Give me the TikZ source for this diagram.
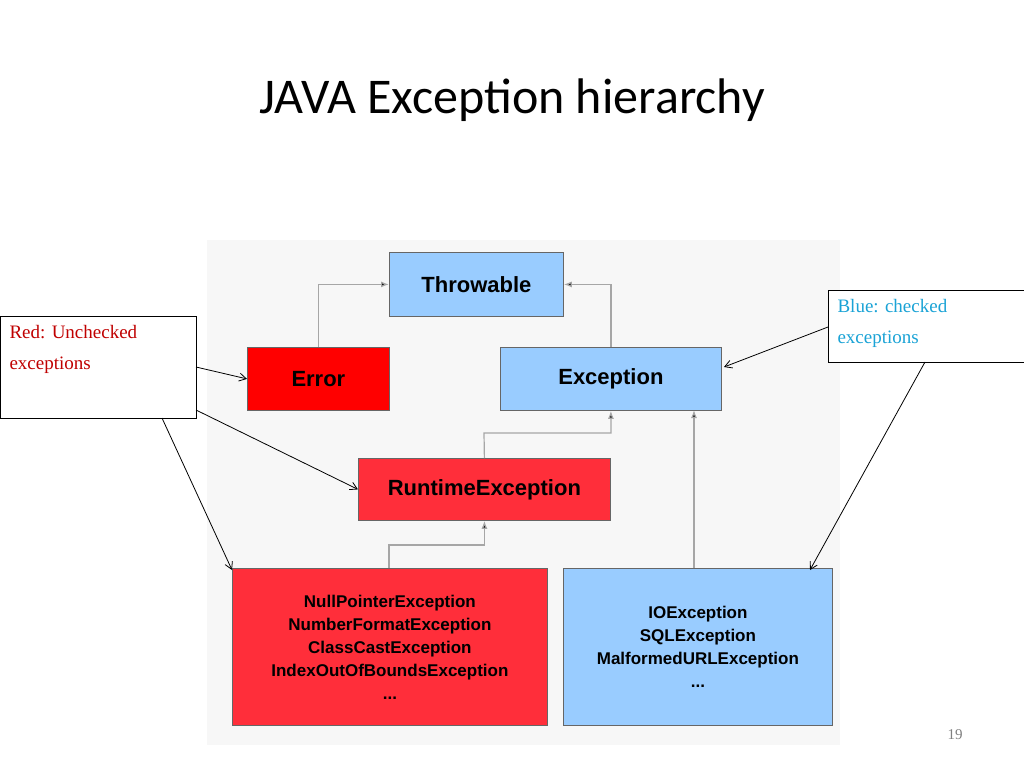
\documentclass[tikz,border=0pt]{standalone}
\usepackage{fontspec}
\setmainfont{Liberation Serif}
\newfontfamily\titlefont{Carlito}
\newfontfamily\boxfont{Liberation Sans}
\usetikzlibrary{arrows.meta}
\definecolor{lblue}{HTML}{99CCFF}
\definecolor{bred}{HTML}{FF0000}
\definecolor{rred}{HTML}{FF2E3A}
\definecolor{cblue}{HTML}{1AA3D6}
\definecolor{cred}{HTML}{C00000}
\begin{document}
\begin{tikzpicture}[x=1pt,y=-1pt,
  cls/.style={draw=gray!80!black,line width=0.8pt,anchor=north west,font=\boxfont\bfseries,align=center,inner sep=0pt},
  inh/.style={draw=gray!70,line width=1.2pt,-{Latex[length=8pt,width=6pt,fill=black]}},
  note/.style={-{Straight Barb[length=7pt,width=8pt]},line width=0.8pt},
  callout/.style={draw,fill=white,anchor=north west,inner sep=0pt}]
\useasboundingbox (0,0) rectangle (1024,768);
\fill[white] (0,0) rectangle (1024,768);
\fill[black!3] (207,240) rectangle (840,745);
\node[font=\titlefont\fontsize{50}{60}\selectfont] (title) at (512,100) {JAVA Exception hierarchy};
\node[cls,fill=lblue,minimum width=174pt,minimum height=64pt,font=\boxfont\bfseries\fontsize{22}{26}\selectfont] (thr) at (389,252) {Throwable};
\node[cls,fill=bred,minimum width=142pt,minimum height=63pt,font=\boxfont\bfseries\fontsize{22}{26}\selectfont] (err) at (247,347) {Error};
\node[cls,fill=lblue,minimum width=221pt,minimum height=63pt,font=\boxfont\bfseries\fontsize{22}{26}\selectfont] (exc) at (500,347) {Exception};
\node[cls,fill=rred,minimum width=252pt,minimum height=62pt,font=\boxfont\bfseries\fontsize{22}{26}\selectfont] (rte) at (358,458) {RuntimeException};
\node[cls,fill=rred,minimum width=315pt,minimum height=157pt,font=\boxfont\bfseries\fontsize{17}{23}\selectfont] (unc) at (232,568) {NullPointerException\\NumberFormatException\\ClassCastException\\IndexOutOfBoundsException\\...};
\node[cls,fill=lblue,minimum width=269pt,minimum height=157pt,font=\boxfont\bfseries\fontsize{17}{23}\selectfont] (chk) at (563,568) {IOException\\SQLException\\MalformedURLException\\...};
\node[callout,minimum width=196pt,minimum height=102pt] (rc) at (0,316) {};
\node[anchor=north west,align=left,text=cred,font=\fontsize{19}{31}\selectfont] (rct) at (6,322) {Red: Unchecked\\exceptions};
\node[callout,minimum width=196pt,minimum height=72pt] (bc) at (828,290) {};
\node[anchor=north west,align=left,text=cblue,font=\fontsize{19}{31}\selectfont] (bct) at (834,296) {Blue: checked\\exceptions};
\node[text=gray,font=\fontsize{15}{18}\selectfont] (pg) at (955,735) {19};
% inheritance
\draw[inh] (err.north) |- (thr.west);
\draw[inh] (exc.north) |- (thr.east);
\draw[inh] (rte.north) -- (484,433) -| (exc.south);
\draw[inh] (389,568) -- (389,545) -| (rte.south);
\draw[inh] (694,568) -- (694,410);
% callouts
\draw[note] (196,367) -- (err.west);
\draw[note] (196,410) -- (rte.west);
\draw[note] (162,418) -- (232,570);
\draw[note] (828,327) -- (724,367);
\draw[note] (925,362) -- (810,570);
\end{tikzpicture}
\end{document}
